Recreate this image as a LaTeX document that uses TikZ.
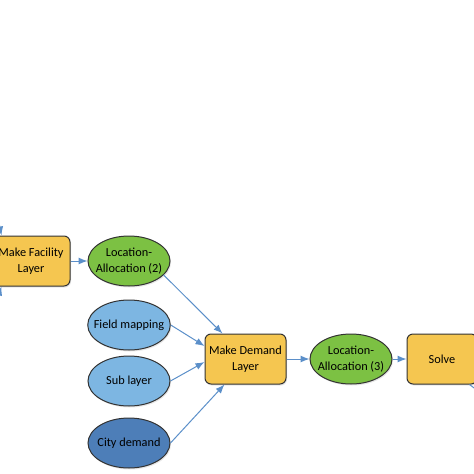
\documentclass[tikz,border=0pt]{standalone}
\usepackage{fontspec}
\setmainfont{Carlito}
\usetikzlibrary{arrows.meta,shapes.geometric,shadows}
\definecolor{taskgold}{HTML}{F5C650}
\definecolor{toolgreen}{HTML}{7CC143}
\definecolor{datablue}{HTML}{7DB6E2}
\definecolor{darkblue}{HTML}{4D7EB8}
\definecolor{flowblue}{HTML}{5B8FC9}
\begin{document}
\begin{tikzpicture}[x=1pt,y=-1pt,
		taskbox/.style={draw=black!80,line width=1pt,rounded corners=6pt,fill=taskgold,
			minimum width=80pt,minimum height=50pt,align=center,inner sep=2pt,
			font=\fontsize{12.3}{16}\selectfont,
			drop shadow={opacity=0.2,shadow xshift=1pt,shadow yshift=-1.5pt}},
		toolnode/.style={ellipse,draw=black!80,line width=1pt,fill=toolgreen,
			minimum width=82pt,minimum height=50pt,align=center,inner xsep=-6pt,inner ysep=0pt,
			font=\fontsize{12.3}{16}\selectfont,
			drop shadow={opacity=0.2,shadow xshift=1pt,shadow yshift=-1.5pt}},
		datanode/.style={toolnode,fill=datablue},
		flow/.style={draw=flowblue,line width=1pt,-{Latex[length=9pt,width=7pt]}}]
	\useasboundingbox (0,0) rectangle (474,474);
	\clip (0,0) rectangle (474,474);
	% tasks
	\node[taskbox,minimum width=78pt] (facility) at (31,261) {Make Facility\\Layer};
	\node[taskbox,minimum width=81pt] (demand) at (245.5,359) {Make Demand\\Layer};
	\node[taskbox,minimum width=70pt] (solve) at (442,359) {Solve};
	% tools
	\node[toolnode] (alloc2) at (129,261) {Location-\\Allocation (2)};
	\node[toolnode] (alloc3) at (351,359) {Location-\\Allocation (3)};
	% inputs
	\node[datanode] (field) at (129,325) {Field mapping};
	\node[datanode] (sub) at (129,381) {Sub layer};
	\node[datanode,fill=darkblue] (city) at (129,443) {City demand};
	% loose ends
	\coordinate (inA) at (-4,208);
	\coordinate (inB) at (-6,310);
	\coordinate (outA) at (490,400);
	% connectors
	\draw[flow] (inA) -- ([xshift=10pt]facility.north west);
	\draw[flow] (inB) -- ([xshift=10pt]facility.south west);
	\draw[flow] (facility) -- (alloc2);
	\draw[flow] (alloc2.-22) -- ([xshift=18pt]demand.north west);
	\draw[flow] (field.east) -- ([yshift=13pt]demand.west);
	\draw[flow] (sub.east) -- ([yshift=-3pt]demand.west);
	\draw[flow] (city.east) -- ([xshift=20pt]demand.south west);
	\draw[flow] (demand) -- (alloc3);
	\draw[flow] (alloc3) -- (solve);
	\draw[flow] ([xshift=-8pt]solve.south east) -- (outA);
\end{tikzpicture}
\end{document}
